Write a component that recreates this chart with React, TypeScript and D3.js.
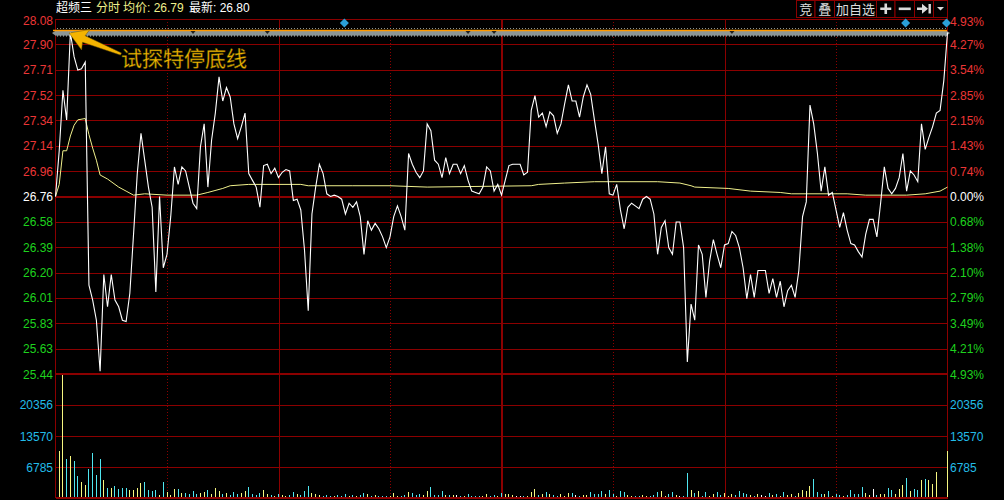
import * as d3 from "d3";

const W = 1004;
const H = 500;

// chart data
const prevClose = 26.76;
const priceDomain = [25.44, 28.08];
const volMax = 27141;

const price = [
  26.76, 27.1, 27.55, 27.33, 27.98, 27.8, 27.7, 27.71, 27.76, 26.1,
  25.99, 25.84, 25.46, 26.18, 25.94, 26.18, 25.99, 25.94, 25.84, 25.83,
  26.04, 26.48, 26.93, 27.23, 27.03, 26.83, 26.68, 26.05, 26.76, 26.23,
  26.33, 26.61, 26.98, 26.85, 26.98, 26.95, 26.83, 26.71, 26.67, 27.13,
  27.3, 26.83, 27.18, 27.38, 27.65, 27.47, 27.57, 27.5, 27.3, 27.19,
  27.28, 27.38, 26.93, 26.88, 26.83, 26.68, 26.99, 27.0, 26.93, 26.97,
  26.9, 26.94, 26.96, 26.95, 26.73, 26.74, 26.66, 26.36, 25.91, 26.63,
  26.83, 27.0, 26.93, 26.78, 26.76, 26.77, 26.76, 26.74, 26.63, 26.71,
  26.68, 26.72, 26.61, 26.33, 26.58, 26.51, 26.56, 26.52, 26.46, 26.38,
  26.46, 26.61, 26.69, 26.61, 26.51, 27.08, 27.0, 26.94, 26.9, 26.95,
  27.3, 27.25, 27.03, 27.0, 26.9, 27.05, 26.93, 27.0, 27.0, 26.93,
  26.99, 26.88, 26.8, 26.79, 26.78, 26.83, 26.98, 26.95, 26.8, 26.85,
  26.77, 26.88, 26.99, 27.0, 27.0, 27.0, 26.92, 26.94, 27.4, 27.51,
  27.35, 27.38, 27.28, 27.39, 27.36, 27.23, 27.3, 27.45, 27.59, 27.47,
  27.47, 27.35, 27.5, 27.59, 27.52, 27.33, 27.15, 26.93, 27.13, 26.78,
  26.77, 26.85, 26.66, 26.52, 26.68, 26.71, 26.69, 26.67, 26.74, 26.76,
  26.74, 26.63, 26.33, 26.53, 26.58, 26.38, 26.33, 26.57, 26.57, 26.38,
  25.53, 25.96, 25.84, 26.4, 26.33, 26.01, 26.28, 26.44, 26.33, 26.23,
  26.4, 26.41, 26.5, 26.47, 26.38, 26.23, 26.0, 26.18, 26.01, 26.21,
  26.21, 26.21, 26.04, 26.15, 26.01, 26.13, 25.94, 26.06, 26.1, 26.01,
  26.21, 26.61, 26.72, 27.44, 27.3, 27.08, 26.8, 26.98, 26.77, 26.79,
  26.66, 26.53, 26.64, 26.51, 26.41, 26.4, 26.35, 26.31, 26.48, 26.59,
  26.59, 26.46, 26.71, 26.98, 26.82, 26.78, 26.82, 26.9, 27.08, 26.8,
  26.95, 26.92, 26.87, 27.3, 27.11, 27.2, 27.28, 27.38, 27.4, 27.62,
  27.98,
];

const volume = [
  0, 10300, 26900, 8470, 9190, 8160, 4820, 3500, 2850, 6400,
  9850, 5030, 8540, 3940, 2190, 2190, 2630, 1970, 2190, 2190,
  1750, 1750, 2190, 3280, 3500, 1750, 1530, 1750, 600, 3500,
  1300, 700, 1900, 1900, 1100, 1100, 850, 1530, 850, 1100,
  1300, 1750, 880, 2190, 1530, 880, 1100, 660, 1300, 880,
  1100, 1530, 2400, 880, 660, 1100, 1750, 880, 660, 440,
  880, 660, 440, 660, 1300, 880, 660, 1530, 2630, 1100,
  880, 660, 440, 660, 440, 440, 660, 440, 880, 440,
  660, 440, 660, 1100, 880, 440, 660, 440, 440, 440,
  440, 1100, 440, 440, 660, 1300, 1100, 660, 880, 660,
  1530, 2400, 660, 660, 1530, 660, 660, 660, 660, 440,
  440, 880, 440, 440, 440, 440, 880, 440, 660, 440,
  1100, 880, 880, 660, 440, 440, 440, 440, 1300, 1970,
  660, 880, 1300, 880, 660, 440, 880, 440, 1100, 1100,
  660, 440, 660, 660, 1300, 880, 880, 1530, 880, 1750,
  880, 440, 1530, 1300, 660, 440, 440, 440, 660, 440,
  440, 660, 1300, 1530, 440, 880, 1300, 660, 440, 440,
  5470, 1750, 1100, 1530, 440, 1300, 440, 880, 1300, 660,
  1100, 440, 880, 660, 1530, 1100, 880, 660, 440, 880,
  660, 440, 1100, 660, 880, 440, 1300, 660, 880, 440,
  1100, 1750, 1530, 2630, 4160, 1300, 880, 880, 1530, 440,
  880, 660, 440, 660, 1750, 880, 880, 2410, 1100, 660,
  1970, 660, 880, 880, 2190, 1750, 880, 1970, 2850, 4380,
  1530, 1970, 1750, 3940, 4160, 3940, 3070, 5690, 220, 0,
  10300,
];

const avgMinute = [
  0, 1, 2, 3, 4, 5, 6, 8, 9, 10, 11, 12, 14, 17, 19, 21, 24, 30, 38, 41,
  45, 47, 52, 66, 68, 80, 90, 100, 128, 130, 137, 145, 162, 168, 171, 172,
  181, 187, 195, 198, 213, 218, 229, 234, 238, 240,
];
const avgPrice = [
  26.76, 26.85, 27.1, 27.1, 27.21, 27.29, 27.33, 27.34, 27.22, 27.12, 27.03,
  26.92, 26.89, 26.83, 26.8, 26.77, 26.78, 26.77, 26.77, 26.79, 26.82, 26.84,
  26.85, 26.85, 26.84, 26.84, 26.84, 26.83, 26.84, 26.85, 26.86, 26.87, 26.87,
  26.86, 26.84, 26.83, 26.82, 26.8, 26.79, 26.78, 26.78, 26.77, 26.77, 26.78,
  26.8, 26.83,
];

const leftTicks = [
  "28.08", "27.90", "27.71", "27.52", "27.34", "27.14", "26.96", "26.76",
  "26.58", "26.39", "26.20", "26.01", "25.83", "25.63", "25.44",
];
const rightTicks = [
  "4.93%", "4.27%", "3.54%", "2.85%", "2.15%", "1.43%", "0.74%", "0.00%",
  "0.68%", "1.38%", "2.10%", "2.79%", "3.49%", "4.21%", "4.93%",
];
const volTicks = [20356, 13570, 6785];

const solidMinutes = [60, 120, 180];
const dottedMinutes = [30, 90, 150, 210];
const diamondMinutes = [78, 229, 240];
const notchMinutes = [37, 57, 111, 118, 182];

const buttons = ["竞", "叠", "加自选", "+", "−", "⇥", "▾"];
const buttonEdges = [796.5, 815, 834.5, 876.5, 895, 914.5, 933.5, 947.5];

const GRID = "#8b0000";
const RED = "#ec3636";
const GREEN = "#1ed21e";
const CYAN = "#22bce8";
const YEL = "#f0f08c";
const BAR_YEL = "#f6f680";
const BAR_CYAN = "#50e6f0";
const GOLD = "#f4b400";
const LABEL_FONT = "'Liberation Sans', Arial, 'Noto Sans CJK SC', sans-serif";
const CJK_FONT = "'Noto Sans CJK SC', 'Liberation Sans', sans-serif";

const LEFT = 55.5;
const RIGHT = 947.5;
const TOP = 19;
const MID = 374;
const BOTTOM = 498;

export default function App() {
  const x = d3.scaleLinear().domain([0, 240]).range([LEFT, RIGHT]);
  const y = d3.scaleLinear().domain(priceDomain).range([MID, TOP]);
  const yV = d3.scaleLinear().domain([0, volMax]).range([BOTTOM, MID]);
  const row = d3
    .scalePoint<number>()
    .domain(d3.range(leftTicks.length))
    .range([TOP, MID]);

  const priceLine = d3
    .line<number>()
    .x((_, i) => x(i))
    .y((d) => y(d));
  const avgLine = d3
    .line<number>()
    .x((_, i) => x(avgMinute[i]))
    .y((d) => y(d));

  const crisp = (v: number) => Math.round(v) + 0.5;

  // sawtooth edge of the band at the top
  let teeth = "";
  for (let t = 56; t < 946; t += 3) {
    teeth += `M${t},35L${t + 3},35L${t + 1.5},37Z`;
  }

  const labelColor = (k: number) => (k < 7 ? RED : k === 7 ? "#ffffff" : GREEN);

  // arrow of the annotation
  const tip: [number, number] = [69, 33];
  const tail: [number, number] = [121, 54];
  const len = Math.hypot(tail[0] - tip[0], tail[1] - tip[1]);
  const ux = (tail[0] - tip[0]) / len;
  const uy = (tail[1] - tip[1]) / len;
  const px = -uy;
  const py = ux;
  const at = (d: number, w: number) => [tip[0] + ux * d + px * w, tip[1] + uy * d + py * w];
  const arrowPts = [
    tip,
    at(18, -11),
    at(16, -3.5),
    at(len, -1.2),
    at(len, 1.2),
    at(16, 3.5),
    at(18, 11),
  ]
    .map((p) => p.join(","))
    .join(" ");

  return (
    <div style={{ position: "absolute", left: 0, top: 0 }}>
      <svg width={W} height={H} style={{ display: "block", background: "#000" }}>
        <rect width={W} height={H} fill="#000" />

        {/* price grid */}
        <g shapeRendering="crispEdges">
          {leftTicks.map((_, k) => (
            <line
              key={"h" + k}
              x1={LEFT}
              x2={RIGHT}
              y1={k === 7 || k === 14 ? Math.round(row(k)!) : crisp(row(k)!)}
              y2={k === 7 || k === 14 ? Math.round(row(k)!) : crisp(row(k)!)}
              stroke={GRID}
              strokeWidth={k === 7 || k === 14 ? 2 : 1}
            />
          ))}
          {volTicks.map((v) => (
            <line key={"v" + v} x1={LEFT} x2={RIGHT} y1={crisp(yV(v))} y2={crisp(yV(v))} stroke={GRID} />
          ))}
          <line x1={LEFT} x2={RIGHT} y1={BOTTOM} y2={BOTTOM} stroke={GRID} strokeWidth={2} />

          {solidMinutes.map((m) => (
            <line
              key={"s" + m}
              x1={m === 120 ? Math.round(x(m)) : crisp(x(m))}
              x2={m === 120 ? Math.round(x(m)) : crisp(x(m))}
              y1={TOP}
              y2={BOTTOM}
              stroke={GRID}
              strokeWidth={m === 120 ? 2 : 1}
            />
          ))}
          {dottedMinutes.map((m) => (
            <line
              key={"d" + m}
              x1={crisp(x(m))}
              x2={crisp(x(m))}
              y1={TOP}
              y2={BOTTOM}
              stroke={GRID}
              strokeDasharray="1 2"
            />
          ))}
          <line x1={LEFT} x2={LEFT} y1={TOP} y2={BOTTOM} stroke={GRID} />
          <line x1={RIGHT} x2={RIGHT} y1={0} y2={BOTTOM} stroke={GRID} />
        </g>

        {/* volume bars */}
        <g shapeRendering="crispEdges">
          {volume.map((v, i) => {
            if (!v) return null;
            const prev = i === 0 ? prevClose : price[i - 1];
            const c = price[i] > prev ? BAR_YEL : price[i] < prev ? BAR_CYAN : "#ffffff";
            const top = Math.round(yV(v));
            return (
              <rect
                key={"b" + i}
                x={Math.floor(x(i))}
                y={top}
                width={1}
                height={BOTTOM - 1 - top}
                fill={c}
              />
            );
          })}
        </g>

        {/* band along the top */}
        {d3.range(57, 946, 3).map((t) => (
          <rect key={"p" + t} x={t} y={28} width={1} height={1} fill="#8c9696" />
        ))}
        <rect x={56} y={31} width={890} height={4} fill="#8c9696" />
        <path d={teeth} fill="#8c9696" />
        <path d="M52,33L56,30.5L56,36Z" fill="#8c9696" />
        <path d="M946,30.5L950,33L946,36Z" fill="#8c9696" />
        <line x1={53} x2={947} y1={30.5} y2={30.5} stroke="#ff9a00" strokeWidth={1.3} />
        {notchMinutes.map((m) => (
          <path
            key={"n" + m}
            d={`M${x(m) - 2.5},31L${x(m) + 2.5},31L${x(m)},34Z`}
            fill="#222"
          />
        ))}

        {/* lines */}
        <path d={avgLine(avgPrice) ?? ""} fill="none" stroke={YEL} strokeWidth={1} />
        <path d={priceLine(price) ?? ""} fill="none" stroke="#ffffff" strokeWidth={1.1} />

        {diamondMinutes.map((m) => (
          <path
            key={"m" + m}
            d={`M${x(m) - 1},18.5L${x(m) + 3.5},23L${x(m) - 1},27.5L${x(m) - 5.5},23Z`}
            fill="#2aa0d8"
          />
        ))}

        {/* annotation */}
        <polygon points={arrowPts} fill={GOLD} stroke="#6b5200" strokeWidth={0.5} />
        <text
          x={121}
          y={66}
          fontSize={21}
          fontFamily={CJK_FONT}
          fill={GOLD}
          stroke="#4a4a00"
          strokeWidth={0.4}
        >
          试探特停底线
        </text>

        {/* axis labels */}
        {leftTicks.map((t, k) => (
          <text
            key={"l" + k}
            x={53}
            y={k === 0 ? 25 : row(k)! + 4.5}
            textAnchor="end"
            fontSize={12}
            fontFamily={LABEL_FONT}
            fill={labelColor(k)}
          >
            {t}
          </text>
        ))}
        {rightTicks.map((t, k) => (
          <text
            key={"r" + k}
            x={950}
            y={k === 0 ? 26 : row(k)! + 4.5}
            fontSize={12}
            fontFamily={LABEL_FONT}
            fill={labelColor(k)}
          >
            {t}
          </text>
        ))}
        {volTicks.map((v) => (
          <g key={"vl" + v}>
            <text x={53} y={yV(v) + 4.5} textAnchor="end" fontSize={12} fontFamily={LABEL_FONT} fill={CYAN}>
              {v}
            </text>
            <text x={950} y={yV(v) + 4.5} fontSize={12} fontFamily={LABEL_FONT} fill={CYAN}>
              {v}
            </text>
          </g>
        ))}

        {/* header */}
        <text y={12} fontSize={12} fontFamily={LABEL_FONT}>
          <tspan x={56} fill="#ffffff">超频三</tspan>
          <tspan x={96} fill={YEL}>分时</tspan>
          <tspan x={123} fill={YEL}>均价: 26.79</tspan>
          <tspan x={189} fill="#ffffff">最新: 26.80</tspan>
        </text>

        {/* buttons */}
        {buttons.map((b, k) => {
          const x0 = buttonEdges[k];
          const x1 = buttonEdges[k + 1];
          const cx = (x0 + x1) / 2;
          let icon: JSX.Element;
          if (b === "+") {
            icon = (
              <path d={`M${cx - 5.5},7.5h11v2.6h-11z M${cx - 1.3},3.5h2.6v10.6h-2.6z`} fill="#dcdcdc" />
            );
          } else if (b === "−") {
            icon = <path d={`M${cx - 6},7.5h12v2.6h-12z`} fill="#dcdcdc" />;
          } else if (b === "⇥") {
            icon = (
              <path
                d={`M${cx - 7},7.6h5v2.4h-5z M${cx - 2},3.8L${cx + 4},8.8L${cx - 2},13.8z M${cx + 4.5},4h2.4v9.6h-2.4z`}
                fill="#dcdcdc"
              />
            );
          } else if (b === "▾") {
            icon = <path d={`M${cx - 3.5},7L${cx + 3.5},7L${cx},10.5z`} fill="#dcdcdc" />;
          } else {
            icon = (
              <text x={cx} y={14} textAnchor="middle" fontSize={13} fontFamily={CJK_FONT} fill="#dcdcdc">
                {b}
              </text>
            );
          }
          return (
            <g key={"btn" + k}>
              <rect x={x0} y={0.5} width={x1 - x0} height={17} fill="#000" stroke={GRID} />
              {icon}
            </g>
          );
        })}
      </svg>
    </div>
  );
}
